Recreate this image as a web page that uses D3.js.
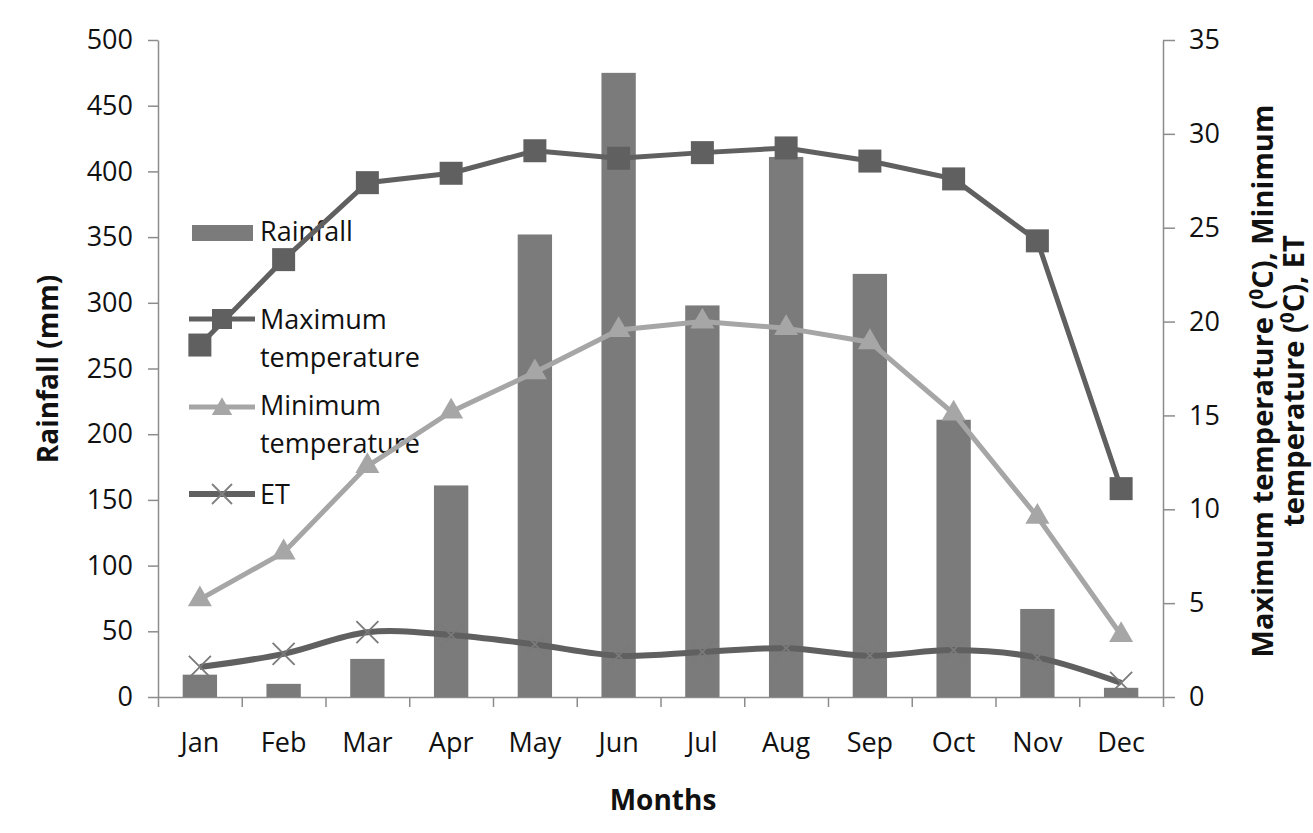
<!DOCTYPE html>
<html><head><meta charset="utf-8">
<script src="https://cdn.jsdelivr.net/npm/d3@7"></script>
<style>
html,body{margin:0;padding:0;background:#fff;}
svg{display:block;font-family:"Open Sans",sans-serif;}
</style></head>
<body><svg id="c" width="1313" height="833"></svg>
<script>
const months = ["Jan","Feb","Mar","Apr","May","Jun","Jul","Aug","Sep","Oct","Nov","Dec"];
const rainfall = [17, 10, 29, 161, 352, 475, 298, 411, 322, 211, 67, 7];
const maxTemp = [18.75, 23.3, 27.4, 27.9, 29.1, 28.7, 29.0, 29.25, 28.55, 27.6, 24.3, 11.1];
const minTemp = [5.2, 7.7, 12.3, 15.2, 17.3, 19.55, 20.0, 19.65, 18.9, 15.1, 9.6, 3.3];
const et = [1.6, 2.3, 3.45, 3.3, 2.8, 2.2, 2.4, 2.6, 2.2, 2.5, 2.1, 0.75];
const leftTicks = [0,50,100,150,200,250,300,350,400,450,500];
const rightTicks = [0,5,10,15,20,25,30,35];

const svg = d3.select("#c");
const L = 158, R = 1163, T = 40, B = 697;
const axisColor = "#8c8c8c";

const x = d3.scaleBand().domain(months).range([L, R]).paddingInner(0.59).paddingOuter(0.295);
const yL = d3.scaleLinear().domain([0, 500]).range([B, T]);
const yR = d3.scaleLinear().domain([0, 35]).range([B, T]);
const cx = m => x(m) + x.bandwidth() / 2;

// Left axis
const gl = svg.append("g").attr("transform", `translate(${L},0)`)
  .call(d3.axisLeft(yL).tickValues(leftTicks).tickSize(10).tickPadding(15).tickSizeOuter(0));
// Right axis
const gr = svg.append("g").attr("transform", `translate(${R},0)`)
  .call(d3.axisRight(yR).tickValues(rightTicks).tickSize(12).tickPadding(14).tickSizeOuter(0));
// Bottom axis: labels
const gb = svg.append("g").attr("transform", `translate(0,${B})`)
  .call(d3.axisBottom(x).tickSize(0).tickPadding(36));
// Bottom axis: boundary ticks
const xi = d3.scaleLinear().domain([0, months.length]).range([L, R]);
const gb2 = svg.append("g").attr("transform", `translate(0,${B})`)
  .call(d3.axisBottom(xi).tickValues(d3.range(0, months.length + 1)).tickSize(10).tickFormat("").tickSizeOuter(0));
[gl, gr, gb, gb2].forEach(g => {
  g.selectAll("path.domain").attr("stroke", axisColor).attr("stroke-width", 1.5);
  g.selectAll(".tick line").attr("stroke", axisColor).attr("stroke-width", 1.5);
  g.selectAll("text").attr("font-family", "Open Sans").attr("font-size", 27).attr("fill", "#111");
});
gb.select("path.domain").remove();

// Legend (drawn beneath plot lines)
const lg = svg.append("g");
lg.append("rect").attr("x", 192).attr("y", 225).attr("width", 61).attr("height", 16).attr("fill", "#7b7b7b");
lg.append("line").attr("x1", 189).attr("x2", 255).attr("y1", 319).attr("y2", 319).attr("stroke", "#606060").attr("stroke-width", 5);
lg.append("rect").attr("x", 212).attr("y", 309).attr("width", 20).attr("height", 20).attr("fill", "#606060");
lg.append("line").attr("x1", 189).attr("x2", 255).attr("y1", 407).attr("y2", 407).attr("stroke", "#a6a6a6").attr("stroke-width", 5);
lg.append("path").attr("transform", "translate(222,409)").attr("d", d3.symbol(d3.symbolTriangle, 180)()).attr("fill", "#a6a6a6");
lg.append("line").attr("x1", 189).attr("x2", 255).attr("y1", 494).attr("y2", 494).attr("stroke", "#606060").attr("stroke-width", 6);
lg.append("path").attr("transform", "translate(222,494)").attr("d", "M-10,-10L10,10M-10,10L10,-10").attr("stroke", "#808080").attr("stroke-width", 1.8).attr("fill", "none");
const lt = lg.append("g").attr("font-size", 27).attr("fill", "#111");
[["Rainfall",241],["Maximum",329],["temperature",367],["Minimum",415],["temperature",453],["ET",504]]
  .forEach(([t,y]) => lt.append("text").attr("x", 260).attr("y", y).text(t));

// Bars
svg.append("g").selectAll("rect").data(months).join("rect")
  .attr("x", m => x(m)).attr("width", x.bandwidth())
  .attr("y", (m,i) => yL(rainfall[i])).attr("height", (m,i) => B - yL(rainfall[i]))
  .attr("fill", "#7b7b7b");

// Max temperature
svg.append("path").datum(maxTemp)
  .attr("d", d3.line().x((d,i) => cx(months[i])).y(d => yR(d)))
  .attr("fill", "none").attr("stroke", "#606060").attr("stroke-width", 5);
svg.append("g").selectAll("rect").data(maxTemp).join("rect")
  .attr("x", (d,i) => cx(months[i]) - 11.5).attr("y", d => yR(d) - 11.5)
  .attr("width", 23).attr("height", 23).attr("fill", "#606060");

// Min temperature
svg.append("path").datum(minTemp)
  .attr("d", d3.line().x((d,i) => cx(months[i])).y(d => yR(d)))
  .attr("fill", "none").attr("stroke", "#a6a6a6").attr("stroke-width", 5);
svg.append("g").selectAll("path").data(minTemp).join("path")
  .attr("transform", (d,i) => `translate(${cx(months[i])},${yR(d)})`)
  .attr("d", d3.symbol(d3.symbolTriangle, 250)()).attr("fill", "#a6a6a6");

// ET
svg.append("path").datum(et)
  .attr("d", d3.line().x((d,i) => cx(months[i])).y(d => yR(d)).curve(d3.curveCatmullRom.alpha(0)))
  .attr("fill", "none").attr("stroke", "#606060").attr("stroke-width", 6);
svg.append("g").selectAll("path").data(et).join("path")
  .attr("transform", (d,i) => `translate(${cx(months[i])},${yR(d)})`)
  .attr("d", "M-11,-11L11,11M-11,11L11,-11").attr("stroke", "#7a7a7a").attr("stroke-width", 1.8).attr("fill", "none");

// Axis titles
svg.append("text").attr("transform", "translate(58,369) rotate(-90)").attr("text-anchor", "middle")
  .attr("font-weight", "bold").attr("font-size", 28).attr("fill", "#111").text("Rainfall (mm)");
svg.append("text").attr("x", 663).attr("y", 810).attr("text-anchor", "middle")
  .attr("font-weight", "bold").attr("font-size", 28).attr("fill", "#111").text("Months");
const rt = svg.append("text").attr("transform", "translate(1273,381) rotate(-90)").attr("text-anchor", "middle")
  .attr("font-weight", "bold").attr("font-size", 29).attr("fill", "#111");
rt.append("tspan").text("Maximum temperature (");
rt.append("tspan").attr("dy", -10).attr("font-size", 19).text("0");
rt.append("tspan").attr("dy", 10).text("C), Minimum");
const rt2 = svg.append("text").attr("transform", "translate(1304,381) rotate(-90)").attr("text-anchor", "middle")
  .attr("font-weight", "bold").attr("font-size", 29).attr("fill", "#111");
rt2.append("tspan").text("temperature (");
rt2.append("tspan").attr("dy", -10).attr("font-size", 19).text("0");
rt2.append("tspan").attr("dy", 10).text("C), ET");
</script></body></html>
